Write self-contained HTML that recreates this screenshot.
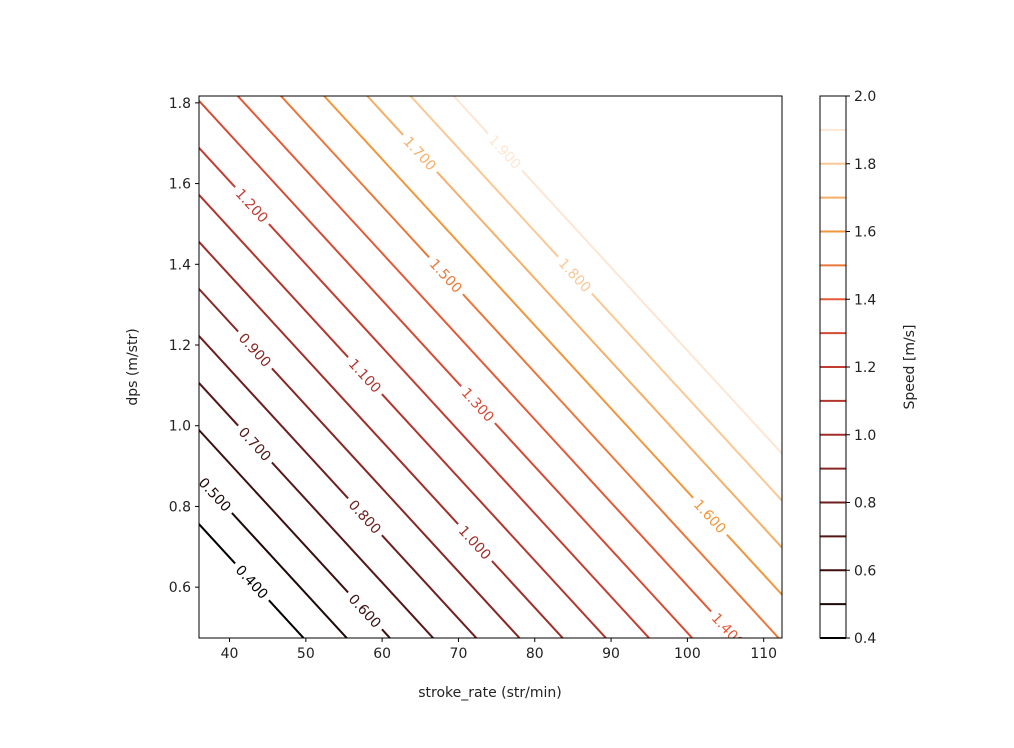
<!DOCTYPE html>
<html><head><meta charset="utf-8"><style>
body{margin:0;background:#fff;overflow:hidden;}
svg{font-family:"DejaVu Sans","Liberation Sans",sans-serif;display:block;}
</style></head><body>
<svg id="chart" width="1014" height="748" viewBox="0 0 1014 748" xmlns="http://www.w3.org/2000/svg">
<defs><clipPath id="clip"><rect x="199" y="96" width="583" height="542"/></clipPath></defs>
<rect width="1014" height="748" fill="#fff"/>
<g id="lines" clip-path="url(#clip)"></g>
<g id="labels" clip-path="url(#clip)"></g>
<rect x="199" y="96" width="583" height="542" fill="none" stroke="#000" stroke-width="1"/>
<g id="axes"></g>
<text x="490" y="697" font-size="14" text-anchor="middle" fill="#222">stroke_rate (str/min)</text>
<text x="137" y="367" font-size="14" text-anchor="middle" fill="#222" transform="rotate(-90 137 367)">dps (m/str)</text>
<g id="cbar"></g>
<text x="914" y="367" font-size="14" text-anchor="middle" fill="#222" transform="rotate(-90 914 367)">Speed [m/s]</text>
</svg>
<script>
const levels=[0.4,0.5,0.6,0.7,0.8,0.9,1.0,1.1,1.2,1.3,1.4,1.5,1.6,1.7,1.8,1.9];
const labelPixelX=[252,215,365,255,365,255,475,365,252,478,728,446,710,420,575,505];
const xTicks=[40,50,60,70,80,90,100,110];
const yTicks=[0.6,0.8,1.0,1.2,1.4,1.6,1.8];
const cbarTicks=[0.4,0.6,0.8,1.0,1.2,1.4,1.6,1.8,2.0];
// speed model: a*sr + b*dps + c
const coefA=0.01767, coefB=0.858, coefC=-0.8849;
const X0=36,X1=112.4,Y0=0.474,Y1=1.817;
const L=199,R=782,T=96,B=638;
const sx=v=>L+(v-X0)/(X1-X0)*(R-L);
const sy=v=>B-(v-Y0)/(Y1-Y0)*(B-T);
const ix=p=>X0+(p-L)/(R-L)*(X1-X0);
const dpsAt=(lv,x)=>(lv-coefC-coefA*x)/coefB;
const stops=[[0.4,[0,0,0]],[0.6,[60,15,15]],[0.8,[110,30,30]],[1.0,[160,45,40]],[1.2,[195,60,50]],[1.4,[228,90,55]],[1.6,[242,150,60]],[1.8,[250,200,150]],[1.9,[253,230,210]],[2.0,[255,245,235]]];
function color(v){for(let i=0;i<stops.length-1;i++){const [a,ca]=stops[i],[b,cb]=stops[i+1];
 if(v<=b+1e-9){const t=(v-a)/(b-a);return 'rgb('+ca.map((c,j)=>Math.round(c+(cb[j]-c)*t)).join(',')+')';}}return 'rgb(255,255,255)';}
const NS="http://www.w3.org/2000/svg";
function mk(tag,attrs,parent){const e=document.createElementNS(NS,tag);for(const k in attrs)e.setAttribute(k,attrs[k]);parent.appendChild(e);return e;}
const gl=document.getElementById('lines'),glb=document.getElementById('labels');
levels.forEach((lv,i)=>{
 const xa=X0-2,xb=X1+2;
 const pl=mk('line',{x1:sx(xa),y1:sy(dpsAt(lv,xa)),x2:sx(xb),y2:sy(dpsAt(lv,xb)),stroke:color(lv),'stroke-width':2},gl);
 
 
 const px=labelPixelX[i];const py=sy(dpsAt(lv,ix(px)));
 const py2=sy(dpsAt(lv,ix(px+10)));const ang=Math.atan2(py2-py,10)*180/Math.PI;
 const g=mk('g',{transform:`translate(${px},${py}) rotate(${ang})`},glb);
 
 
 mk('rect',{x:-25,y:-9,width:50,height:18,fill:'#fff'},g);
 const t=mk('text',{x:0,y:5,'font-size':14,'text-anchor':'middle',fill:color(lv)},g);
 t.textContent=lv.toFixed(3);
});
const ga=document.getElementById('axes');
xTicks.forEach(v=>{const x=sx(v);mk('line',{x1:x,x2:x,y1:B,y2:B+4,stroke:'#000'},ga);
 const t=mk('text',{x:x,y:B+20,'font-size':14,'text-anchor':'middle',fill:'#222'},ga);t.textContent=v;
 });
yTicks.forEach(v=>{const y=sy(v);mk('line',{x1:L-4,x2:L,y1:y,y2:y,stroke:'#000'},ga);
 const t=mk('text',{x:L-8,y:y+5,'font-size':14,'text-anchor':'end',fill:'#222'},ga);t.textContent=v.toFixed(1);
 });
const gc=document.getElementById('cbar');
const CL=820,CR=846;const cy=v=>638-(v-0.4)/1.6*542;
levels.forEach(lv=>{const l=mk('line',{x1:CL,x2:CR,y1:cy(lv),y2:cy(lv),stroke:color(lv),'stroke-width':2},gc);
 });
mk('rect',{x:CL,y:96,width:CR-CL,height:542,fill:'none',stroke:'#000'},gc);
cbarTicks.forEach(v=>{const y=cy(v);mk('line',{x1:CR,x2:CR+4,y1:y,y2:y,stroke:'#000'},gc);
 const t=mk('text',{x:CR+8,y:y+5,'font-size':14,fill:'#222'},gc);t.textContent=v.toFixed(1);
 });
</script>
</body></html>
